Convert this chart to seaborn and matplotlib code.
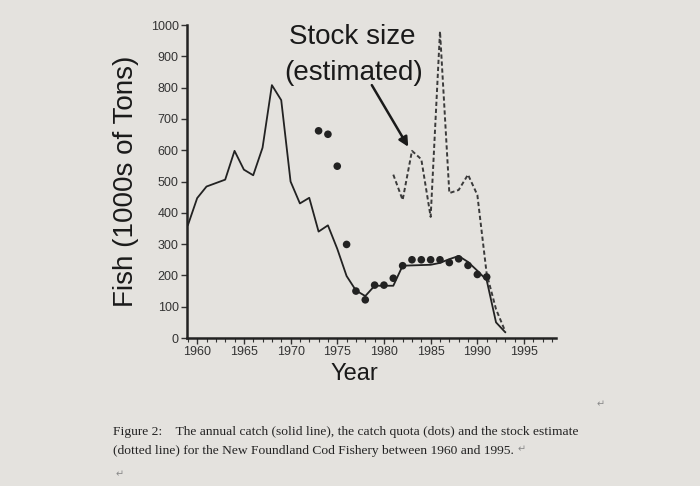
import matplotlib
matplotlib.use("Agg")
import matplotlib.pyplot as plt
import seaborn as sns
import pandas as pd
from matplotlib.ticker import MultipleLocator

# ---- data ----
catch_years = list(range(1959, 1994))
catch_values = [360, 447, 484, 495, 506, 598, 538, 520, 608, 808,
                760, 500, 430, 448, 340, 360, 285, 198, 152, 134,
                167, 167, 167, 231, 232, 233, 234, 240, 252, 262,
                243, 215, 185, 50, 18]

quota_years = list(range(1973, 1992))
quota_values = [662, 651, 549, 299, 150, 122, 169, 169, 191, 231,
                250, 250, 250, 250, 241, 253, 232, 203, 195]

stock_years = list(range(1981, 1994))
stock_values = [522, 441, 598, 571, 387, 980, 463, 473, 522, 457,
                205, 92, 20]

x_ticks = [1960, 1965, 1970, 1975, 1980, 1985, 1990, 1995]
y_ticks = [0, 100, 200, 300, 400, 500, 600, 700, 800, 900, 1000]

catch_df = pd.DataFrame({"Year": catch_years, "Catch": catch_values})
quota_df = pd.DataFrame({"Year": quota_years, "Quota": quota_values})
stock_df = pd.DataFrame({"Year": stock_years, "Stock": stock_values})

sns.set_style("ticks")
plt.rcParams["font.family"] = ["Liberation Sans", "DejaVu Sans"]

bg = "#e4e2de"
fig = plt.figure(figsize=(7.0, 4.86), dpi=100, facecolor=bg)
ax = fig.add_axes([0.267, 0.3045, 0.527, 0.644])
ax.set_facecolor(bg)

ink = "#222222"
sns.lineplot(data=catch_df, x="Year", y="Catch", ax=ax, color=ink,
             linewidth=1.3)
sns.lineplot(data=stock_df, x="Year", y="Stock", ax=ax, color="#3a3a3a",
             linewidth=1.4, linestyle=(0, (2.2, 1.4)))
sns.scatterplot(data=quota_df, x="Year", y="Quota", ax=ax, color=ink,
                s=30, edgecolor="none", zorder=5)

ax.set_xlim(1958.9, 1998.4)
ax.set_ylim(0, 1000)
ax.set_xticks(x_ticks)
ax.xaxis.set_minor_locator(MultipleLocator(1))
ax.set_yticks(y_ticks)

for s in ["top", "right"]:
    ax.spines[s].set_visible(False)
for s in ["left", "bottom"]:
    ax.spines[s].set_linewidth(1.8)
    ax.spines[s].set_color(ink)

ax.tick_params(axis="both", which="major", labelsize=9, colors="#333333",
               length=4, width=1, pad=2)
ax.tick_params(axis="x", which="minor", length=3, width=0.8, colors="#333333")

ax.set_xlabel("Year", fontsize=17, color="#1a1a1a", labelpad=3)
ax.xaxis.label.set_x(0.455)
ax.set_ylabel("Fish (1000s of Tons)", fontsize=20, color="#1a1a1a",
              labelpad=8)

# annotation
ax.text(1976.6, 963, "Stock size", fontsize=20, ha="center", va="center",
        color="#1a1a1a")
ax.text(1976.8, 848, "(estimated)", fontsize=20, ha="center", va="center",
        color="#1a1a1a")
ax.annotate("", xy=(1982.6, 611), xytext=(1978.7, 808),
            arrowprops=dict(arrowstyle="-|>", color="#1a1a1a", lw=1.8,
                            mutation_scale=14, shrinkA=0, shrinkB=0))

# caption
cap_font = ["Liberation Serif", "DejaVu Sans"]
fig.text(113 / 700, 1 - 432 / 486,
         "Figure 2:    The annual catch (solid line), the catch quota (dots) and the stock estimate",
         fontsize=9.7, family=cap_font, color="#222222", va="center")
fig.text(113 / 700, 1 - 451 / 486,
         "(dotted line) for the New Foundland Cod Fishery between 1960 and 1995.",
         fontsize=9.7, family=cap_font, color="#222222", va="center")
for px, py in [(518, 449), (116, 474), (597, 404)]:
    fig.text(px / 700, 1 - py / 486, "\u21b5", fontsize=7,
             family=["DejaVu Sans"], color="#8a8a8a", va="center")

fig.savefig("out.png", dpi=100, facecolor=bg)
